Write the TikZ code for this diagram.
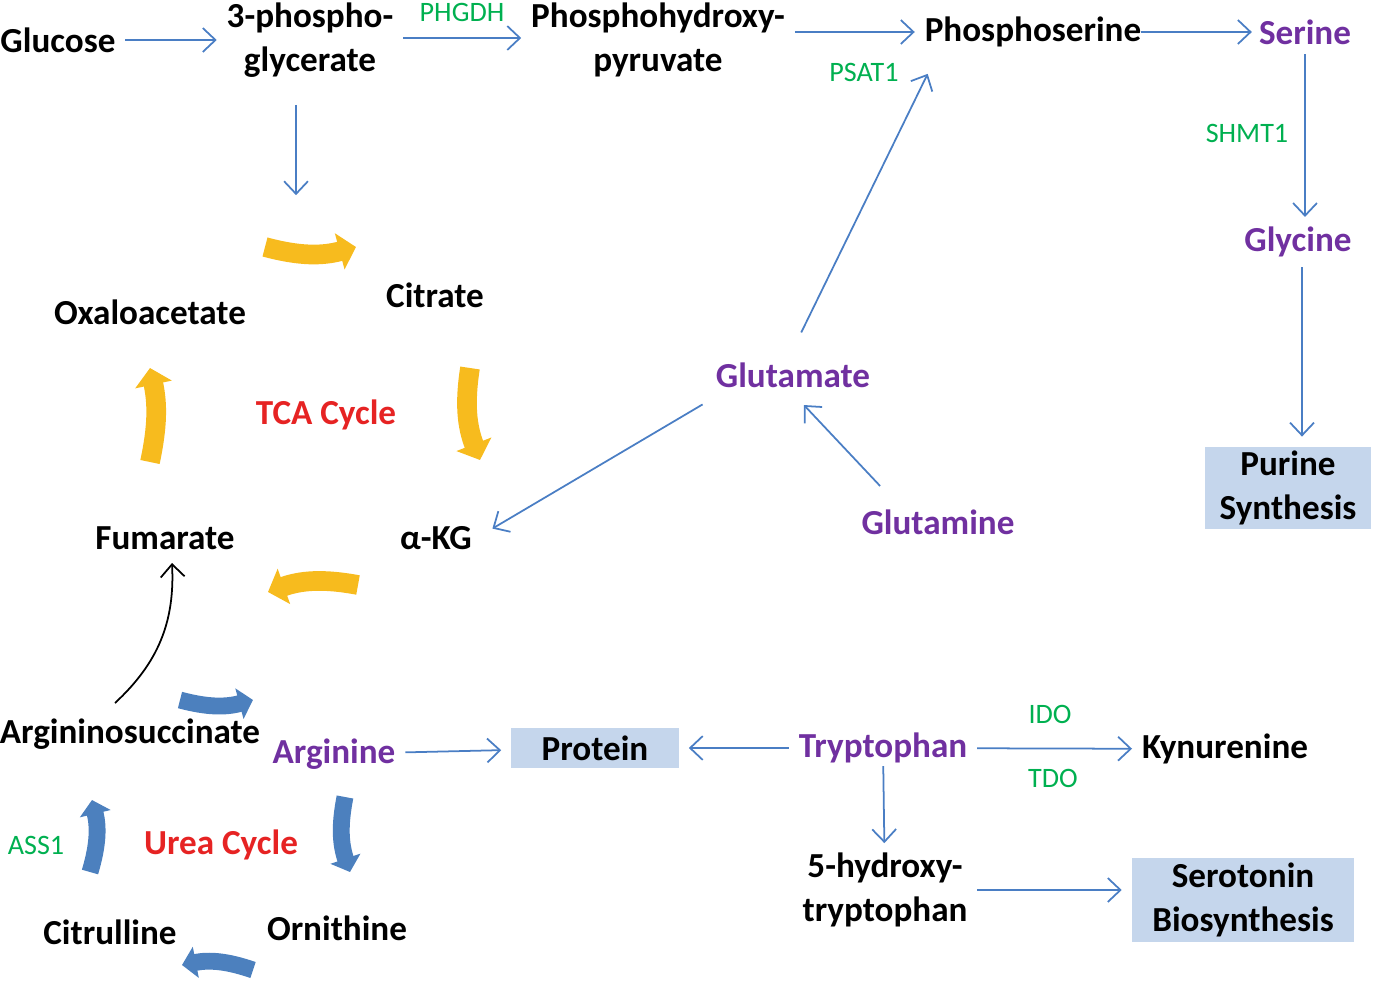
\documentclass[tikz,border=0pt]{standalone}
\usepackage{fontspec}
\setmainfont{Carlito}
\usetikzlibrary{arrows.meta}
\definecolor{pur}{RGB}{112,48,160}
\definecolor{grn}{RGB}{0,176,80}
\definecolor{rd}{RGB}{230,35,35}
\definecolor{ln}{RGB}{74,126,196}
\definecolor{yel}{RGB}{247,187,30}
\definecolor{bar}{RGB}{76,128,190}
\definecolor{box}{RGB}{197,214,236}
\begin{document}
\begin{tikzpicture}[x=0.05cm,y=-0.05cm,
  every node/.style={font=\fontsize{50}{62}\selectfont\bfseries, align=center, inner sep=0pt},
  lbl/.style={font=\fontsize{40}{48}\selectfont, text=grn},
  met/.style={text=pur},
  cyc/.style={text=rd},
  bx/.style={fill=box, minimum width=#1},
  ar/.style={draw=ln, line width=2.5pt, -{Straight Barb[length=18pt,width=34pt,line width=2.5pt]}, shorten <=14pt, shorten >=14pt},
  tca/.style={draw=yel, line width=28pt, -{Triangle[length=24pt,width=52pt]}},
  urea/.style={draw=bar, line width=24pt, -{Triangle[length=20pt,width=44pt]}}]
\useasboundingbox (0,0) rectangle (1382,1000);
% nodes
\node (glu) at (58,40) {Glucose};
\node (pg) at (310,40) {3-phospho-\\glycerate};
\node[lbl] (phgdh) at (462,12) {PHGDH};
\node (php) at (658,40) {Phosphohydroxy-\\pyruvate};
\node (ps) at (1033,32) {Phosphoserine};
\node[met] (ser) at (1305,32) {Serine};
\node[lbl] (psat) at (864,72) {PSAT1};
\node[lbl] (shmt) at (1247,133) {SHMT1};
\node[met] (gly) at (1298,242) {Glycine};
\node[bx=167*1.42pt, minimum height=83*1.42pt] (pur) at (1288,488) {Purine\\Synthesis};
\node (cit) at (435,295) {Citrate};
\node (oaa) at (150,312) {Oxaloacetate};
\node[cyc] (tca) at (326,415) {TCA Cycle};
\node[met] (glt) at (793,375) {Glutamate};
\node[met] (gln) at (938,522) {Glutamine};
\node (fum) at (165,538) {Fumarate};
\node (akg) at (436,538) {α-KG};
\node (asu) at (130,734) {Argininosuccinate};
\node[met] (arg) at (334,754) {Arginine};
\node[bx=168*1.42pt, minimum height=40*1.42pt] (pro) at (595,748) {Protein};
\node[met] (trp) at (883,748) {Tryptophan};
\node[lbl] (ido) at (1050,714) {IDO};
\node[lbl] (tdo) at (1053,778) {TDO};
\node (kyn) at (1225,749) {Kynurenine};
\node[lbl] (ass) at (36,845) {ASS1};
\node[cyc] (urea) at (221,845) {Urea Cycle};
\node (htp) at (885,890) {5-hydroxy-\\tryptophan};
\node[bx=223*1.42pt, minimum height=84*1.42pt] (sero) at (1243,900) {Serotonin\\Biosynthesis};
\node (ctl) at (110,932) {Citrulline};
\node (orn) at (337,928) {Ornithine};
% connectors
\draw[ar] (glu) -- (pg.west|-glu);
\draw[ar] (pg.east|-0,38) -- (php.west|-0,38);
\draw[ar] (php.east|-ps) -- (ps);
\draw[ar,shorten <=0pt,shorten >=10pt] (ps) -- (ser);
\draw[ar] (ser) -- (ser|-gly.north);
\draw[ar] (gly.south-|1302,0) -- (1302,425|-pur.north);
\draw[ar] (296,95) -- (296,205);
\draw[ar,shorten <=4pt] (800,335) -- (932,65);
\draw[ar,shorten <=4pt,shorten >=4pt] (705,403) -- (490,530);
\draw[ar,shorten <=4pt,shorten >=4pt] (882,488) -- (802,403);
\draw[ar] (arg) -- (pro);
\draw[ar] (trp) -- (pro);
\draw[ar] (trp) -- (kyn);
\draw[ar,shorten <=4pt] (trp) -- (htp);
\draw[ar] (htp.east|-0,890) -- (sero.west|-0,890);
\draw[black, line width=2.5pt, -{Straight Barb[length=18pt,width=34pt,line width=2.5pt]}] (115,703) to[bend right=25] (172,563);
% TCA cycle arrows
\draw[tca] (265,247) to[bend left=-15] (356,247);
\draw[tca] (470,368) to[bend left=-15] (480,460);
\draw[tca] (358,585) to[bend left=-15] (268,592);
\draw[tca] (150,462) to[bend left=-12] (150,368);
% urea cycle arrows
\draw[urea] (180,700) to[bend left=-15] (253,700);
\draw[urea] (345,797) to[bend left=-15] (350,872);
\draw[urea] (253,970) to[bend left=-15] (182,965);
\draw[urea] (90,872) to[bend left=-15] (92,800);
\end{tikzpicture}
\end{document}
